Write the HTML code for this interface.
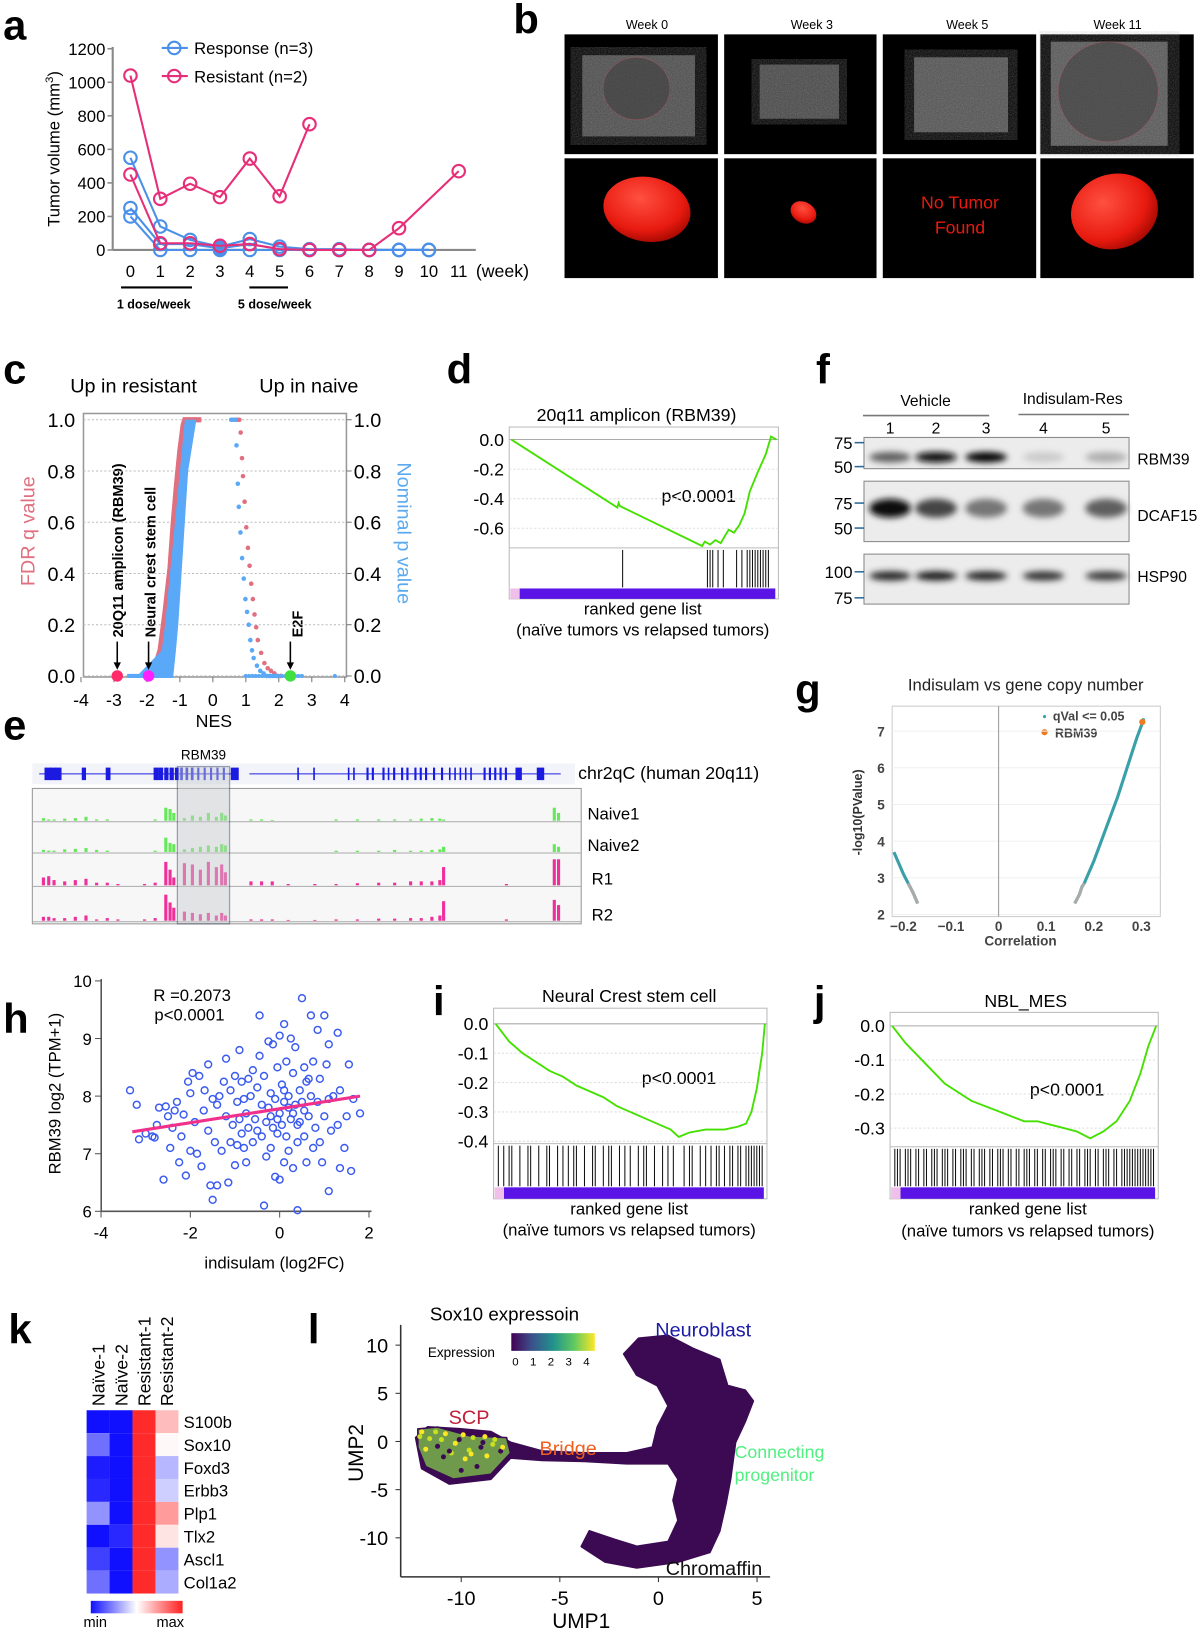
<!DOCTYPE html>
<html><head><meta charset="utf-8"><title>Figure</title>
<style>
html,body{margin:0;padding:0;background:#fff;}
svg{display:block;font-family:"Liberation Sans",Arial,sans-serif;}
.pl{font-weight:bold;font-size:40px;}
</style></head>
<body>
<svg id="fig" width="1200" height="1630" viewBox="0 0 1150 1565" preserveAspectRatio="none" xmlns="http://www.w3.org/2000/svg">
<defs>
<filter id="blur" x="-30%" y="-80%" width="160%" height="260%"><feGaussianBlur stdDeviation="3"/></filter>
<filter id="noise"><feTurbulence type="fractalNoise" baseFrequency="0.9" numOctaves="2" result="n"/><feColorMatrix type="saturate" values="0"/><feComponentTransfer><feFuncA type="linear" slope="1"/></feComponentTransfer></filter>
<linearGradient id="viridis" x1="0" x2="1" y1="0" y2="0"><stop offset="0" stop-color="#440154"/><stop offset="0.25" stop-color="#3b528b"/><stop offset="0.5" stop-color="#21918c"/><stop offset="0.75" stop-color="#5ec962"/><stop offset="1" stop-color="#fde725"/></linearGradient>
<linearGradient id="bwr" x1="0" x2="1" y1="0" y2="0"><stop offset="0" stop-color="#1010ff"/><stop offset="0.5" stop-color="#ffffff"/><stop offset="1" stop-color="#ff2020"/></linearGradient>
<radialGradient id="redblob" cx="0.4" cy="0.35" r="0.7"><stop offset="0" stop-color="#ff5040"/><stop offset="0.7" stop-color="#e81a10"/><stop offset="1" stop-color="#a00800"/></radialGradient>
</defs>

<text class="pl" x="3" y="38">a</text>
<text class="pl" x="492" y="32">b</text>
<text class="pl" x="3" y="368">c</text>
<text class="pl" x="428" y="368">d</text>
<text class="pl" x="782" y="368">f</text>
<text class="pl" x="3" y="710">e</text>
<text class="pl" x="762" y="676">g</text>
<text class="pl" x="3" y="992">h</text>
<text class="pl" x="415" y="975">i</text>
<text class="pl" x="780" y="975">j</text>
<text class="pl" x="8" y="1290">k</text>
<text class="pl" x="295" y="1290">l</text>

<g id="pa">
<line x1="108" y1="45" x2="108" y2="240" stroke="#888" stroke-width="2"/>
<line x1="108" y1="240" x2="456" y2="240" stroke="#888" stroke-width="2"/>
<text x="456" y="266" font-size="17">(week)</text>
<text transform="translate(57,143) rotate(-90)" text-anchor="middle" font-size="16">Tumor volume (mm<tspan font-size="11" dy="-6">3</tspan><tspan dy="6">)</tspan></text>
<line x1="155" y1="46" x2="180" y2="46" stroke="#4a90e8" stroke-width="2"/>
<circle cx="167" cy="46" r="6" fill="none" stroke="#4a90e8" stroke-width="2"/>
<text x="186" y="52" font-size="16">Response (n=3)</text>
<line x1="155" y1="73" x2="180" y2="73" stroke="#e62f78" stroke-width="2"/>
<circle cx="167" cy="73" r="6" fill="none" stroke="#e62f78" stroke-width="2"/>
<text x="186" y="79" font-size="16">Resistant (n=2)</text>
<line x1="116" y1="276" x2="184" y2="276" stroke="#000" stroke-width="2"/>
<text x="112" y="296" font-size="12" font-weight="bold">1 dose/week</text>
<line x1="239" y1="276" x2="276" y2="276" stroke="#000" stroke-width="2"/>
<text x="228" y="296" font-size="12" font-weight="bold">5 dose/week</text>
</g>

<g id="pb">
<text x="620" y="28" text-anchor="middle" font-size="12">Week 0</text>
<text x="778" y="28" text-anchor="middle" font-size="12">Week  3</text>
<text x="927" y="28" text-anchor="middle" font-size="12">Week 5</text>
<text x="1071" y="28" text-anchor="middle" font-size="12">Week 11</text>
<rect x="541" y="33" width="147" height="115" fill="#000"/>
<rect x="694" y="33" width="146" height="115" fill="#000"/>
<rect x="846" y="33" width="147" height="115" fill="#000"/>
<rect x="997" y="33" width="147" height="115" fill="#000"/>
<rect x="541" y="152" width="147" height="115" fill="#000"/>
<rect x="694" y="152" width="146" height="115" fill="#000"/>
<rect x="846" y="152" width="147" height="115" fill="#000"/>
<rect x="997" y="152" width="147" height="115" fill="#000"/>
<rect x="558" y="53" width="108" height="78" fill="#4a4a4a"/>
<rect x="558" y="53" width="108" height="78" filter="url(#noise)" opacity="0.35"/>
<ellipse cx="610" cy="85" rx="32" ry="30" fill="#3a3a3a" opacity="0.5" stroke="#c05060" stroke-width="0.6"/>
<rect x="728" y="62" width="76" height="52" fill="#454545"/>
<rect x="728" y="62" width="76" height="52" filter="url(#noise)" opacity="0.35"/>
<rect x="876" y="55" width="90" height="72" fill="#505050"/>
<rect x="876" y="55" width="90" height="72" filter="url(#noise)" opacity="0.35"/>
<rect x="1007" y="40" width="112" height="100" fill="#555"/>
<rect x="1007" y="40" width="112" height="100" filter="url(#noise)" opacity="0.35"/>
<ellipse cx="1062" cy="88" rx="48" ry="48" fill="#3c3c3c" opacity="0.5" stroke="#c05060" stroke-width="0.6"/>
<ellipse cx="620" cy="201" rx="42" ry="31" fill="url(#redblob)" transform="rotate(10 620 201)"/>
<ellipse cx="770" cy="204" rx="13" ry="10" fill="url(#redblob)" transform="rotate(30 770 204)"/>
<text x="920" y="200" text-anchor="middle" font-size="17" fill="#e81a10">No Tumor</text>
<text x="920" y="224" text-anchor="middle" font-size="17" fill="#e81a10">Found</text>
<ellipse cx="1068" cy="203" rx="42" ry="36" fill="url(#redblob)" transform="rotate(-15 1068 203)"/>
</g>

<g id="pc">
<text x="128" y="377" text-anchor="middle" font-size="19">Up in resistant</text>
<text x="296" y="377" text-anchor="middle" font-size="19">Up in naive</text>
<rect x="80" y="397" width="252" height="253" fill="none" stroke="#999" stroke-width="1.5"/>
<text transform="translate(33,510) rotate(-90)" text-anchor="middle" font-size="19" fill="#e07080">FDR q value</text>
<text transform="translate(381,512) rotate(90)" text-anchor="middle" font-size="19" fill="#5aaaf0">Nominal p value</text>
<text x="205" y="698" text-anchor="middle" font-size="17">NES</text>
<text transform="translate(118,612) rotate(-90)" font-size="14" font-weight="bold">20Q11 amplicon (RBM39)</text>
<text transform="translate(149,612) rotate(-90)" font-size="14" font-weight="bold">Neural crest stem cell</text>
<text transform="translate(290,612) rotate(-90)" font-size="14" font-weight="bold">E2F</text>
</g>
<g id="pcd"></g>

<g id="pd">
<text x="610" y="404" text-anchor="middle" font-size="17">20q11 amplicon (RBM39)</text>
<text x="634" y="482" font-size="17">p&lt;0.0001</text>
<text x="616" y="590" text-anchor="middle" font-size="16">ranked gene list</text>
<text x="616" y="610" text-anchor="middle" font-size="16">(naïve tumors vs relapsed tumors)</text>
</g>

<g id="pf">
<text x="887" y="390" text-anchor="middle" font-size="15">Vehicle</text>
<line x1="827" y1="399" x2="948" y2="399" stroke="#777" stroke-width="1.5"/>
<text x="1028" y="388" text-anchor="middle" font-size="15">Indisulam-Res</text>
<line x1="976" y1="398" x2="1082" y2="398" stroke="#777" stroke-width="1.5"/>
<text x="1090" y="446" font-size="15">RBM39</text>
<text x="1090" y="500" font-size="15">DCAF15</text>
<text x="1090" y="559" font-size="15">HSP90</text>
</g>
<g id="pfd"></g>

<g id="pe">
<text x="195" y="729" text-anchor="middle" font-size="13">RBM39</text>
<rect x="31" y="733" width="520" height="20" fill="#f2f4fa"/>
<text x="554" y="748" font-size="17">chr2qC (human 20q11)</text>
<rect x="31" y="757" width="526" height="130" fill="#f7f7f7" stroke="#999" stroke-width="1"/>
<text x="563" y="787" font-size="16">Naive1</text>
<text x="563" y="817" font-size="16">Naive2</text>
<text x="567" y="849" font-size="16">R1</text>
<text x="567" y="884" font-size="16">R2</text>
</g>
<g id="ped"></g>

<g id="pg">
<text x="983" y="663" text-anchor="middle" font-size="16" fill="#222">Indisulam vs gene copy number</text>
<rect x="855" y="678" width="257" height="202" fill="#fff" stroke="#ccc" stroke-width="1"/>
<text transform="translate(826,780) rotate(-90)" text-anchor="middle" font-size="12" font-weight="bold" fill="#333">-log10(PValue)</text>
<text x="978" y="908" text-anchor="middle" font-size="13" font-weight="bold" fill="#444">Correlation</text>
<circle cx="1001" cy="688" r="1.5" fill="#3aa0a8"/>
<text x="1009" y="692" font-size="12" font-weight="bold" fill="#444">qVal &lt;= 0.05</text>
<circle cx="1001" cy="703" r="3" fill="#f07a20"/>
<text x="1011" y="708" font-size="12" font-weight="bold" fill="#444">RBM39</text>
</g>
<g id="pgd"></g>

<g id="ph">
<text x="147" y="961" font-size="16">R =0.2073</text>
<text x="148" y="980" font-size="16">p&lt;0.0001</text>
<text transform="translate(58,1050) rotate(-90)" text-anchor="middle" font-size="16">RBM39 log2 (TPM+1)</text>
<text x="263" y="1218" text-anchor="middle" font-size="16">indisulam (log2FC)</text>
</g>
<g id="phd"></g>

<g>
<text x="603" y="962" text-anchor="middle" font-size="17">Neural Crest stem cell</text>
<text x="615" y="1041" font-size="17">p&lt;0.0001</text>
<text x="603" y="1166" text-anchor="middle" font-size="16">ranked gene list</text>
<text x="603" y="1186" text-anchor="middle" font-size="16">(naïve tumors vs relapsed tumors)</text>
</g>
<g>
<text x="983" y="967" text-anchor="middle" font-size="17">NBL_MES</text>
<text x="987" y="1052" font-size="17">p&lt;0.0001</text>
<text x="985" y="1166" text-anchor="middle" font-size="16">ranked gene list</text>
<text x="985" y="1187" text-anchor="middle" font-size="16">(naïve tumors vs relapsed tumors)</text>
</g>
<g id="gsea"></g>

<g>
<rect x="87" y="1537" width="88" height="12" fill="url(#bwr)"/>
<text x="80" y="1562" font-size="14">min</text>
<text x="150" y="1562" font-size="14">max</text>
</g>
<g id="pkd"></g>

<g>
<text x="412" y="1268" font-size="18">Sox10 expressoin</text>
<text x="410" y="1303" font-size="13">Expression</text>
<rect x="490" y="1280" width="80" height="17" fill="url(#viridis)"/>
<text transform="translate(348,1395) rotate(-90)" text-anchor="middle" font-size="20">UMP2</text>
<text x="557" y="1563" text-anchor="middle" font-size="20">UMP1</text>
</g>
<g id="pld"></g>
<g>
<text x="628" y="1283" font-size="19" fill="#1a1aa8">Neuroblast</text>
<text x="430" y="1367" font-size="19" fill="#c0203a">SCP</text>
<text x="517" y="1397" font-size="19" fill="#f06020">Bridge</text>
<text x="704" y="1400" font-size="17" fill="#50f080">Connecting</text>
<text x="704" y="1422" font-size="17" fill="#50f080">progenitor</text>
<text x="638" y="1512" font-size="19" fill="#111">Chromaffin</text>
</g>

<script>
const aWeeks = [0,1,2,3,4,5,6,7,8,9,10,11];
const aYTicks = [0,200,400,600,800,1000,1200];
const resistant1 = [1040,305,395,315,545,320,750];
const resistant2Weeks = [0,1,2,3,4,5,6,7,8,9,11];
const resistant2 = [450,40,40,25,35,5,0,0,0,130,470];
const response1 = [550,140,60,20,65,20,5,5,0,0,0];
const response2 = [250,35,35,10,35,5,0,0,0,0,0];
const response3 = [200,0,0,0,0,0,0,0,0,0,0];
const cXTicks = [-4,-3,-2,-1,0,1,2,3,4];
const cYTicks = [0,0.2,0.4,0.6,0.8,1.0];
const negFdrNes = [-2.0,-1.8,-1.6,-1.45,-1.3,-1.2,-1.1,-1.0,-0.9,-0.85,-0.6,-0.35];
const negFdrQ = [0,0.02,0.1,0.25,0.42,0.6,0.75,0.88,0.98,1,1,1];
const bandQ = [0,0.1,0.2,0.4,0.6,0.8,1.0];
const bandLeftNes = [-2.3,-1.55,-1.45,-1.3,-1.15,-1.0,-0.85];
const bandRightNes = [-1.2,-1.12,-1.05,-0.95,-0.85,-0.75,-0.5];
const posNes = [0.62,0.68,0.74,0.78,0.82,0.85,0.9,0.95,1.0,1.05,1.1,1.15,1.2,1.25,1.3,1.4,1.5,1.6,1.7,1.8,1.9,2.0];
const posQ = [1,1,1,0.95,0.85,0.78,0.68,0.58,0.5,0.43,0.36,0.3,0.24,0.19,0.14,0.09,0.05,0.03,0.02,0.01,0,0];
const posP = [1,1,1,0.9,0.75,0.66,0.56,0.46,0.38,0.3,0.25,0.2,0.14,0.1,0.07,0.04,0.02,0.01,0,0,0,0];
const baseNes = [1.0,1.1,1.2,1.3,1.4,1.5,1.6,1.7,1.8,1.9,2.0,2.1,2.2,2.5,2.6,2.7,3.7];
const markerNes = [-2.9,-1.95,2.35];
const dYTicks = [0,-0.2,-0.4,-0.6];
const dRank = [0,0.4,0.405,0.41,0.72,0.73,0.75,0.77,0.79,0.82,0.84,0.86,0.88,0.9,0.93,0.96,0.98,1.0];
const dES = [0,-0.46,-0.43,-0.45,-0.72,-0.69,-0.71,-0.68,-0.70,-0.61,-0.63,-0.58,-0.50,-0.35,-0.22,-0.10,0.02,0.0];
const dHits = [0.42,0.74,0.75,0.76,0.78,0.8,0.85,0.87,0.89,0.9,0.91,0.92,0.93,0.94,0.95,0.96,0.97];
const iYTicks = [0,-0.1,-0.2,-0.3,-0.4];
const iRank = [0,0.05,0.1,0.15,0.2,0.25,0.3,0.35,0.4,0.45,0.5,0.55,0.6,0.65,0.68,0.72,0.78,0.85,0.9,0.93,0.95,0.97,0.99,1];
const iES = [0,-0.06,-0.1,-0.13,-0.16,-0.18,-0.21,-0.23,-0.25,-0.28,-0.3,-0.32,-0.34,-0.36,-0.385,-0.37,-0.36,-0.36,-0.35,-0.34,-0.3,-0.22,-0.1,0];
const iHits = [0.01,0.03,0.05,0.06,0.09,0.12,0.13,0.16,0.19,0.2,0.23,0.25,0.27,0.29,0.3,0.33,0.36,0.37,0.4,0.42,0.43,0.46,0.48,0.5,0.53,0.55,0.56,0.59,0.62,0.64,0.66,0.7,0.72,0.73,0.76,0.78,0.8,0.82,0.83,0.85,0.87,0.88,0.9,0.91,0.93,0.94,0.95,0.96,0.97,0.98,0.99];
const jYTicks = [0,-0.1,-0.2,-0.3];
const jRank = [0,0.05,0.1,0.15,0.2,0.3,0.4,0.5,0.55,0.6,0.65,0.7,0.75,0.8,0.85,0.9,0.94,0.97,1];
const jES = [0,-0.05,-0.09,-0.13,-0.17,-0.22,-0.25,-0.28,-0.28,-0.29,-0.3,-0.31,-0.33,-0.31,-0.28,-0.22,-0.14,-0.06,0];
const jHits = [0.01,0.02,0.03,0.05,0.06,0.07,0.09,0.1,0.12,0.13,0.15,0.16,0.17,0.19,0.2,0.21,0.23,0.24,0.26,0.27,0.28,0.3,0.31,0.33,0.34,0.35,0.37,0.38,0.4,0.41,0.42,0.44,0.45,0.47,0.48,0.5,0.51,0.52,0.54,0.55,0.57,0.58,0.6,0.61,0.62,0.64,0.65,0.67,0.68,0.7,0.71,0.73,0.74,0.75,0.77,0.78,0.8,0.81,0.82,0.84,0.85,0.87,0.88,0.89,0.9,0.91,0.92,0.93,0.94,0.95,0.96,0.97,0.98,0.99];
const ePos = [1,2,3,5,7,9,11,13,15,20,22,24,24.8,25.5,27.5,29,30.5,32,33.5,34.5,35.2,40,42,44,47,52,56,60,64,67,70,72,74,75.5,76.2,88,97,97.8];
const eNaive1 = [.1,.05,.05,.08,.1,.15,.05,.05,0,0,.05,.5,.45,.3,.1,.2,.15,.3,.15,.3,.2,.05,.05,.03,0,0,.05,.05,.05,.05,.05,.08,.1,.08,.05,0,.5,.3];
const eNaive2 = [.08,.05,.05,.1,.12,.15,.08,.05,0,0,.05,.55,.35,.3,.1,.15,.2,.25,.2,.3,.25,0,0,0,0,0,.05,.05,.05,.08,.05,.05,.08,.1,.2,0,.3,.2];
const eR1 = [.3,.35,.2,.15,.2,.25,.1,.1,.05,.05,.1,.9,.6,.3,.85,.8,.6,.9,.7,.8,.5,.15,.15,.15,.05,.05,.05,.08,.1,.1,.15,.15,.15,.2,.7,.05,1,1];
const eR2 = [.15,.15,.1,.1,.15,.2,.05,.1,.05,.05,.1,1,.7,.5,.35,.3,.25,.3,.2,.3,.2,.05,.05,.05,.03,.03,.05,.05,.08,.08,.1,.1,.15,.2,.75,.05,.8,.6];
const eExons = [1.5,2.5,3.5,8.5,13,22,23,24,25,26,27,28,29,30.2,31.4,32.6,33.8,35,36.5,49,52,58.5,59.5,62,63,65,66,67,68.5,69.5,71,72,73,74.5,76,77.5,78.5,79.5,80.5,81.5,84,85,86,87,88,90,94];
const eExonW = [1.2,1.2,1.2,0.8,0.9,1.0,0.8,0.8,0.8,0.8,0.5,0.5,0.5,0.4,0.4,0.4,0.4,0.4,1.5,0.3,0.3,0.3,0.3,0.4,0.4,0.4,0.3,0.4,0.4,0.4,0.4,0.4,0.4,0.4,0.4,0.3,0.3,0.3,0.3,0.3,0.4,0.4,0.4,0.4,0.4,1.2,1.4];
const fLanes = ['1','2','3','4','5'];
const fRBM39 = [0.6,0.95,1.0,0.12,0.25];
const fDCAF15 = [0.95,0.72,0.5,0.5,0.6];
const fHSP90 = [0.85,0.9,0.85,0.8,0.75];
const gXTicks = [-0.2,-0.1,0,0.1,0.2,0.3];
const gYTicks = [2,3,4,5,6,7];
const gRightC = [0.16,0.17,0.175,0.18,0.19,0.2,0.21,0.22,0.23,0.24,0.25,0.26,0.27,0.28,0.29,0.3,0.305];
const gRightV = [2.3,2.55,2.75,2.85,3.15,3.45,3.8,4.15,4.5,4.85,5.2,5.6,6.0,6.4,6.8,7.15,7.35];
const gLeftC = [-0.22,-0.21,-0.2,-0.19,-0.18,-0.17];
const gLeftV = [3.7,3.4,3.1,2.85,2.6,2.3];
const gRbm39 = [0.302,7.25];
const hXTicks = [-4,-2,0,2];
const hYTicks = [6,7,8,9,10];
const hx = [-3.35,-3.2,-3.15,-3.0,-2.85,-2.8,-2.75,-2.7,-2.6,-2.55,-2.5,-2.45,-2.4,-2.35,-2.3,-2.25,-2.2,-2.15,-2.1,-2.05,-2.0,-2.0,-1.95,-1.9,-1.85,-1.8,-1.75,-1.7,-1.68,-1.6,-1.6,-1.55,-1.5,-1.5,-1.45,-1.4,-1.4,-1.35,-1.3,-1.25,-1.2,-1.2,-1.15,-1.1,-1.1,-1.05,-1.0,-1.0,-0.95,-0.95,-0.9,-0.9,-0.85,-0.85,-0.8,-0.75,-0.75,-0.7,-0.7,-0.65,-0.6,-0.6,-0.55,-0.5,-0.45,-0.45,-0.4,-0.4,-0.35,-0.35,-0.3,-0.3,-0.25,-0.25,-0.2,-0.2,-0.15,-0.15,-0.1,-0.1,-0.05,-0.05,0,0,0,0.05,0.05,0.1,0.1,0.1,0.15,0.15,0.2,0.2,0.25,0.25,0.3,0.3,0.35,0.35,0.4,0.4,0.45,0.45,0.5,0.5,0.55,0.55,0.6,0.6,0.65,0.7,0.7,0.75,0.75,0.8,0.85,0.85,0.9,0.9,0.95,1.0,1.0,1.05,1.1,1.1,1.1,1.15,1.2,1.3,1.3,1.35,1.35,1.45,1.5,1.55,1.6,1.65,1.8,0.3,0.2,-0.05,0.1,-0.2,0.4,0.55,0.65,-0.5,-0.8];
const hy = [8.1,7.85,7.25,7.35,7.3,7.28,7.5,7.8,6.55,7.82,7.65,7.1,7.45,7.75,7.9,6.85,7.3,7.68,6.62,8.25,7.05,8.05,8.4,7.55,7.0,8.35,6.78,7.75,8.1,8.55,7.4,6.45,7.95,6.2,7.2,7.85,6.45,8.0,7.05,8.25,8.65,7.65,6.5,7.2,8.1,7.5,8.35,6.8,7.9,7.15,8.8,7.6,8.25,7.35,7.95,6.85,7.7,8.3,7.45,8.0,7.2,8.45,7.6,8.15,9.4,8.7,7.3,7.85,6.1,8.35,6.95,7.55,8.95,7.8,7.1,8.05,8.9,7.45,6.6,7.95,8.5,7.35,9.05,7.7,6.55,8.2,7.5,9.25,7.9,6.85,8.6,7.3,7.05,8.0,9.0,7.6,8.4,6.75,7.85,8.85,7.2,6.02,8.1,7.55,9.7,7.9,8.5,7.3,6.85,8.25,7.65,9.4,8.0,7.1,8.6,7.45,9.15,7.9,8.3,7.2,6.85,9.4,7.65,8.55,6.35,7.95,8.9,7.4,8.0,9.1,7.5,6.75,8.1,7.1,7.65,8.55,6.7,7.95,7.7,7.7,7.8,7.6,8.1,7.65,7.5,7.75,8.3,7.4,7.1];
const hFit = [[-3.3,7.38],[1.8,8.0]];
const kSamples = ['Naïve-1','Naïve-2','Resistant-1','Resistant-2'];
const kGenes = ['S100b','Sox10','Foxd3','Erbb3','Plp1','Tlx2','Ascl1','Col1a2'];
const kNaive1 = [-1,-0.6,-0.95,-0.9,-0.45,-1,-0.8,-0.6];
const kNaive2 = [-1,-1,-1,-1,-1,-0.9,-1,-1];
const kRes1 = [0.95,0.95,0.95,0.95,0.95,0.95,0.95,0.95];
const kRes2 = [0.3,0.03,-0.3,-0.2,0.45,0.12,-0.45,-0.35];
const lXTicks = [-10,-5,0,5];
const lYTicks = [10,5,0,-5,-10];
const lExprTicks = [0,1,2,3,4];
const lMainX = [-1.75,-1.0,0.48,1.8,3.1,3.5,4.4,4.8,4.4,3.9,3.65,3.4,3.1,2.6,1.0,-1.1,-2.7,-3.9,-3.5,-2.2,-1.1,0.5,1.0,0.75,1.0,0.5,-1.6,-3.75,-5.9,-7.5,-8.5,-10.6,-12.0,-12.3,-11.7,-10.1,-8.5,-7.5,-5.9,-3.75,-1.6,-0.3,-0.05,0.5,-0.05,-1.1];
const lMainY = [9.08,10.7,11.0,9.6,8.5,5.8,5.3,4.2,2.1,-0.1,-3.9,-6.6,-9.3,-11.5,-12.5,-13.1,-12.5,-10.9,-9.3,-10.2,-10.9,-10.4,-8.2,-6.1,-3.9,-2.3,-2.3,-2.05,-1.95,-1.7,-3.9,-4.4,-2.8,0.4,1.5,1.3,1.0,-0.1,-1.0,-1.2,-1.2,-0.6,1.5,3.7,5.8,6.9];
const lScpX = [-12.2,-11.2,-9.6,-7.7,-7.5,-8.5,-10.4,-11.8,-12.2];
const lScpY = [1.3,1.5,0.6,0.4,-1.2,-3.4,-3.9,-2.6,-0.6];
const lHotX = [-12,-11.6,-11.2,-10.8,-10.5,-10.1,-9.8,-9.4,-9,-8.7,-8.3,-8,-11.8,-11.3,-10.9,-10.3,-9.6,-9.2,-8.8,-8.4,-10,-9.5,-11,-8.9,-7.9,-12.1,-10.6,-9.9];
const lHotY = [1.0,0.3,-0.5,0.8,-1.2,0.2,-1.8,0.4,-0.6,-1.5,0.2,-1.0,-0.8,1.0,-1.6,-0.2,-0.9,-2.6,0.5,-0.3,-3.0,-1.3,0.2,-0.1,-0.6,0.5,-1.0,0.7];

const NS = 'http://www.w3.org/2000/svg';
function mk(tag, attrs, parent){
  const e = document.createElementNS(NS, tag);
  for (const k in attrs) e.setAttribute(k, attrs[k]);
  parent.appendChild(e);
  return e;
}
function pts(xs, ys, fx, fy){ return xs.map((x,i)=>fx(x)+','+fy(ys[i])).join(' '); }

(function(){
  const g = document.getElementById('pa');
  const ax = w => 125 + w*28.6;
  const ay = v => 240 - v*0.161;
  aYTicks.forEach(v=>{
    const t = mk('line',{x1:103,x2:108,y1:ay(v),y2:ay(v),stroke:'#888','stroke-width':1.5},g);
    
    
    const l = mk('text',{x:101,y:ay(v)+6,'text-anchor':'end','font-size':16},g);
    
    
    l.textContent = v;
  });
  aWeeks.forEach(w=>{
    const l = mk('text',{x:ax(w),y:266,'text-anchor':'middle','font-size':16},g);
    
    
    l.textContent = w;
  });
  const series = [
    [aWeeks.slice(0,response3.length), response3, '#4a90e8','response-3'],
    [aWeeks.slice(0,response2.length), response2, '#4a90e8','response-2'],
    [aWeeks.slice(0,response1.length), response1, '#4a90e8','response-1'],
    [resistant2Weeks, resistant2, '#e62f78','resistant-2'],
    [aWeeks.slice(0,resistant1.length), resistant1, '#e62f78','resistant-1']
  ];
  series.forEach(s=>{
    const pl = mk('polyline',{points:pts(s[0],s[1],ax,ay),fill:'none',stroke:s[2],'stroke-width':2},g);
    
    
    s[0].forEach((w,i)=>{
      const c = mk('circle',{cx:ax(w),cy:ay(s[1][i]),r:6,fill:'none',stroke:s[2],'stroke-width':2},g);
      
      
    });
  });
})();

(function(){
  const g = document.getElementById('pcd');
  const cx = n => 204 + n*31.6;
  const cy = q => 649 - q*246;
  cYTicks.forEach(q=>{
    const gl = mk('line',{x1:80,x2:332,y1:cy(q),y2:cy(q),stroke:'#bbb','stroke-dasharray':'2,2','stroke-width':1},g);
    
    
    const l = mk('text',{x:72,y:cy(q)+7,'text-anchor':'end','font-size':19},g);
    
    
    l.textContent = q.toFixed(1);
    const r = mk('text',{x:339,y:cy(q)+7,'font-size':19},g);
    
    
    r.textContent = q.toFixed(1);
    const tk = mk('line',{x1:332,x2:337,y1:cy(q),y2:cy(q),stroke:'#777'},g);
    
    
  });
  cXTicks.forEach(n=>{
    const l = mk('text',{x:cx(n),y:678,'text-anchor':'middle','font-size':17},g);
    
    
    l.textContent = n;
    const tk = mk('line',{x1:cx(n),x2:cx(n),y1:650,y2:655,stroke:'#777'},g);
    
    
  });
  const pf = mk('polyline',{points:pts(negFdrNes,negFdrQ,cx,cy),fill:'none',stroke:'#e07080','stroke-width':5},g);
  
  
  const poly = bandLeftNes.map((n,i)=>cx(n)+','+cy(bandQ[i])).concat(bandRightNes.slice().reverse().map((n,i)=>cx(n)+','+cy(bandQ[bandQ.length-1-i]))).join(' ');
  const band = mk('polygon',{points:poly,fill:'#5aa8f8'},g);
  
  
  const bl = mk('line',{x1:cx(-2.6),x2:cx(-1.2),y1:cy(0),y2:cy(0),stroke:'#5aa8f8','stroke-width':4},g);
  
  
  posNes.forEach((n,i)=>{
    const a = mk('circle',{cx:cx(n)+2,cy:cy(posQ[i]),r:2.2,fill:'#e07080'},g);
    
    
    const b = mk('circle',{cx:cx(n)-2,cy:cy(posP[i]),r:2.2,fill:'#5aa8f8'},g);
    
    
  });
  baseNes.forEach(n=>{
    const b = mk('circle',{cx:cx(n),cy:cy(0),r:2,fill:'#5aa8f8'},g);
    
    
  });
  const mcol = ['#ff2a6a','#ff20ff','#40e040'];
  markerNes.forEach((n,i)=>{
    const ar = mk('line',{x1:cx(n),x2:cx(n),y1:616,y2:640,stroke:'#000','stroke-width':1.5},g);
    
    
    const hd = mk('polygon',{points:(cx(n)-3.5)+',636 '+(cx(n)+3.5)+',636 '+cx(n)+',643',fill:'#000'},g);
    
    
    const m = mk('circle',{cx:cx(n),cy:cy(0),r:5.5,fill:mcol[i]},g);
    
    
  });
})();

function gsea(opt){
  const g = document.getElementById('gsea');
  const x0 = opt.x0, x1 = opt.x1;
  const fx = r => x0 + 2 + r*(x1-x0-4);
  const fy = e => opt.y0val + (-e)*opt.scale;
  const fr = mk('rect',{x:x0,y:opt.top,width:x1-x0,height:opt.barBot-opt.top,fill:'none',stroke:'#bbb'},g);
  
  
  opt.ticks.forEach(e=>{
    const gl = mk('line',{x1:x0,x2:x1,y1:fy(e),y2:fy(e),stroke:e===0?'#aaa':'#ddd','stroke-dasharray':e===0?'':'2,2'},g);
    
    
    const l = mk('text',{x:x0-5,y:fy(e)+6,'text-anchor':'end','font-size':17},g);
    
    
    l.textContent = e===0 ? '0.0' : e.toFixed(1);
  });
  const sep = mk('line',{x1:x0,x2:x1,y1:opt.curveBot,y2:opt.curveBot,stroke:'#bbb'},g);
  
  
  const c = mk('polyline',{points:pts(opt.rank,opt.es,fx,fy),fill:'none',stroke:'#44e000','stroke-width':1.8},g);
  
  
  opt.hits.forEach(r=>{
    const h = mk('line',{x1:fx(r),x2:fx(r),y1:opt.curveBot+2,y2:opt.barTop-1,stroke:'#111','stroke-width':1},g);
    
    
  });
  const p = mk('rect',{x:x0+1,y:opt.barTop,width:9,height:opt.barBot-opt.barTop,fill:'#f0c0ea'},g);
  
  
  const q = mk('rect',{x:x0+10,y:opt.barTop,width:x1-x0-13,height:opt.barBot-opt.barTop,fill:'#5a14e6'},g);
  
  
}
gsea({name:'d',x0:488,x1:746,top:410,curveBot:526,barTop:565,barBot:575,y0val:422,scale:142,ticks:dYTicks,rank:dRank,es:dES,hits:dHits});
gsea({name:'i',x0:473,x1:735,top:968,curveBot:1098,barTop:1140,barBot:1151,y0val:983,scale:282,ticks:iYTicks,rank:iRank,es:iES,hits:iHits});
gsea({name:'j',x0:853,x1:1110,top:972,curveBot:1101,barTop:1140,barBot:1151,y0val:985,scale:327,ticks:jYTicks,rank:jRank,es:jES,hits:jHits});

(function(){
  const g = document.getElementById('pfd');
  const laneX = [853,897,945,1000,1060];
  fLanes.forEach((n,i)=>{
    const t = mk('text',{x:laneX[i],y:416,'text-anchor':'middle','font-size':15},g);
    
    
    t.textContent = n;
  });
  const rows = [
    {y:420,h:30,band:fRBM39,by:439,bh:8,name:'rbm39',mw:[['75',425],['50',448]]},
    {y:462,h:58,band:fDCAF15,by:488,bh:16,name:'dcaf15',mw:[['75',483],['50',507]]},
    {y:532,h:48,band:fHSP90,by:553,bh:7,name:'hsp90',mw:[['100',549],['75',574]]}
  ];
  rows.forEach(r=>{
    const b = mk('rect',{x:828,y:r.y,width:254,height:r.h,fill:'#ececec',stroke:'#888'},g);
    
    
    r.band.forEach((v,i)=>{
      const sh = Math.round(230 - v*225);
      const e = mk('ellipse',{cx:laneX[i],cy:r.by,rx:20,ry:r.bh/2+1,fill:'rgb('+sh+','+sh+','+sh+')',filter:'url(#blur)'},g);
      
      
    });
    r.mw.forEach(m=>{
      const t = mk('text',{x:817,y:m[1]+6,'text-anchor':'end','font-size':16},g);
      
      
      t.textContent = m[0];
      const l = mk('line',{x1:819,x2:828,y1:m[1],y2:m[1],stroke:'#2a6a9a','stroke-width':1.5},g);
      
      
    });
  });
})();

(function(){
  const g = document.getElementById('ped');
  const ex = p => 35 + p*5.1;
  const gl1 = mk('line',{x1:ex(0.5),x2:ex(37),y1:743,y2:743,stroke:'#2020e0','stroke-width':1},g);
  
  
  const gl2 = mk('line',{x1:ex(40),x2:ex(98.5),y1:743,y2:743,stroke:'#2020e0','stroke-width':1},g);
  
  
  eExons.forEach((p,i)=>{
    const r = mk('rect',{x:ex(p),y:737,width:eExonW[i]*5.1,height:12,fill:'#1a1ae0'},g);
    
    
  });
  const base = [788,818,850,884];
  const tracks = [[eNaive1,'#66e85a','naive1'],[eNaive2,'#66e85a','naive2'],[eR1,'#f0309a','r1'],[eR2,'#f0309a','r2']];
  base.forEach((b,k)=>{
    const l = mk('line',{x1:31,x2:557,y1:b+1,y2:b+1,stroke:'#aaa'},g);
    
    
    tracks[k][0].forEach((h,i)=>{
      const hh = h*25;
      const r = mk('rect',{x:ex(ePos[i]),y:b-hh,width:3,height:hh,fill:tracks[k][1]},g);
      
      
    });
  });
  const hl = mk('rect',{x:170,y:736,width:50,height:151,fill:'#c8cdd0',opacity:0.45,stroke:'#2a3350','stroke-width':1.2},g);
  
  
})();

(function(){
  const g = document.getElementById('pgd');
  const gx = c => 957 + c*456;
  const gy = v => 878 - (v-2)*35.2;
  gYTicks.forEach(v=>{
    const gl = mk('line',{x1:855,x2:1112,y1:gy(v),y2:gy(v),stroke:'#f0f0f0'},g);
    
    
    const l = mk('text',{x:848,y:gy(v)+5,'text-anchor':'end','font-size':13,'font-weight':'bold',fill:'#444'},g);
    
    
    l.textContent = v;
  });
  gXTicks.forEach(c=>{
    const l = mk('text',{x:gx(c),y:894,'text-anchor':'middle','font-size':13,'font-weight':'bold',fill:'#444'},g);
    
    
    l.textContent = c===0 ? '0' : (c<0 ? '\u2212'+Math.abs(c).toFixed(1) : c.toFixed(1));
  });
  const z = mk('line',{x1:gx(0),x2:gx(0),y1:678,y2:880,stroke:'#999'},g);
  
  
  const r = mk('polyline',{points:pts(gRightC,gRightV,gx,gy),fill:'none',stroke:'#3aa0a8','stroke-width':3},g);
  
  
  const rg = mk('polyline',{points:pts(gRightC.slice(0,4),gRightV.slice(0,4),gx,gy),fill:'none',stroke:'#aaa','stroke-width':3},g);
  
  
  const l = mk('polyline',{points:pts(gLeftC,gLeftV,gx,gy),fill:'none',stroke:'#3aa0a8','stroke-width':3},g);
  
  
  const lg = mk('polyline',{points:pts(gLeftC.slice(3),gLeftV.slice(3),gx,gy),fill:'none',stroke:'#aaa','stroke-width':3},g);
  
  
  const d = mk('circle',{cx:gx(gRbm39[0]),cy:gy(gRbm39[1]),r:3,fill:'#f07a20'},g);
  
  
})();

(function(){
  const g = document.getElementById('phd');
  const hxf = v => 268 + v*42.8;
  const hyf = v => 1163 - (v-6)*55.3;
  const ya = mk('line',{x1:97,x2:97,y1:940,y2:1163,stroke:'#555','stroke-width':1.5},g);
  
  
  const xa = mk('line',{x1:97,x2:356,y1:1163,y2:1163,stroke:'#555','stroke-width':1.5},g);
  
  
  hYTicks.forEach(v=>{
    const t = mk('line',{x1:91,x2:97,y1:hyf(v),y2:hyf(v),stroke:'#555'},g);
    
    
    const l = mk('text',{x:88,y:hyf(v)+6,'text-anchor':'end','font-size':16},g);
    
    
    l.textContent = v;
  });
  hXTicks.forEach(v=>{
    const t = mk('line',{x1:hxf(v),x2:hxf(v),y1:1163,y2:1169,stroke:'#555'},g);
    
    
    const l = mk('text',{x:hxf(v),y:1189,'text-anchor':'middle','font-size':16},g);
    
    
    l.textContent = v;
  });
  hx.forEach((v,i)=>{
    const c = mk('circle',{cx:hxf(v),cy:hyf(hy[i]),r:3.3,fill:'none',stroke:'#3a5af0','stroke-width':1.4},g);
    
    
  });
  const f = mk('line',{x1:hxf(hFit[0][0]),y1:hyf(hFit[0][1]),x2:hxf(hFit[1][0]),y2:hyf(hFit[1][1]),stroke:'#f0308a','stroke-width':3},g);
  
  
})();

(function(){
  const g = document.getElementById('pkd');
  const cols = [kNaive1,kNaive2,kRes1,kRes2];
  function col(v){
    let r,gg,b;
    if (v<0){ const t=-v; r=Math.round(255-t*239); gg=Math.round(255-t*239); b=255; }
    else { const t=v; r=255; gg=Math.round(255-t*223); b=Math.round(255-t*223); }
    return 'rgb('+r+','+gg+','+b+')';
  }
  const colX = [83,105,127,149];
  kSamples.forEach((s,j)=>{
    const t = mk('text',{transform:'translate('+(colX[j]+17)+',1350) rotate(-90)','font-size':17},g);
    
    
    t.textContent = s;
    cols[j].forEach((v,i)=>{
      const r = mk('rect',{x:colX[j],y:1354+i*22,width:22,height:22,fill:col(v)},g);
      
      
    });
  });
  kGenes.forEach((n,i)=>{
    const t = mk('text',{x:176,y:1354+i*22+17,'font-size':16},g);
    
    
    t.textContent = n;
  });
})();

(function(){
  const g = document.getElementById('pld');
  const lx = v => 631 + v*18.9;
  const ly = v => 1384 - v*9.25;
  const ya = mk('line',{x1:384,x2:384,y1:1272,y2:1514,stroke:'#333','stroke-width':1.5},g);
  
  
  const xa = mk('line',{x1:384,x2:738,y1:1514,y2:1514,stroke:'#333','stroke-width':1.5},g);
  
  
  lXTicks.forEach(v=>{
    const t = mk('line',{x1:lx(v),x2:lx(v),y1:1514,y2:1519,stroke:'#333'},g);
    
    
    const l = mk('text',{x:lx(v),y:1541,'text-anchor':'middle','font-size':19},g);
    
    
    l.textContent = v;
  });
  lYTicks.forEach(v=>{
    const t = mk('line',{x1:379,x2:384,y1:ly(v),y2:ly(v),stroke:'#333'},g);
    
    
    const l = mk('text',{x:372,y:ly(v)+7,'text-anchor':'end','font-size':19},g);
    
    
    l.textContent = v;
  });
  lExprTicks.forEach(v=>{
    const l = mk('text',{x:494+v*17,y:1311,'text-anchor':'middle','font-size':11},g);
    
    
    l.textContent = v;
  });
  const m = mk('polygon',{points:pts(lMainX,lMainY,lx,ly),fill:'#3b0a52',stroke:'#3b0a52','stroke-width':2,'stroke-linejoin':'round'},g);
  
  
  const s = mk('polygon',{points:pts(lScpX,lScpY,lx,ly),fill:'#6f9a4c',stroke:'#3b0a52','stroke-width':1.5},g);
  
  
  lHotX.forEach((v,i)=>{
    const c = mk('circle',{cx:lx(v),cy:ly(lHotY[i]),r:2.4,fill:i%3===0?'#fde725':(i%3===1?'#c8e020':'#3b0a52')},g);
    
    
  });
})();
</script>
</svg>
</body></html>
